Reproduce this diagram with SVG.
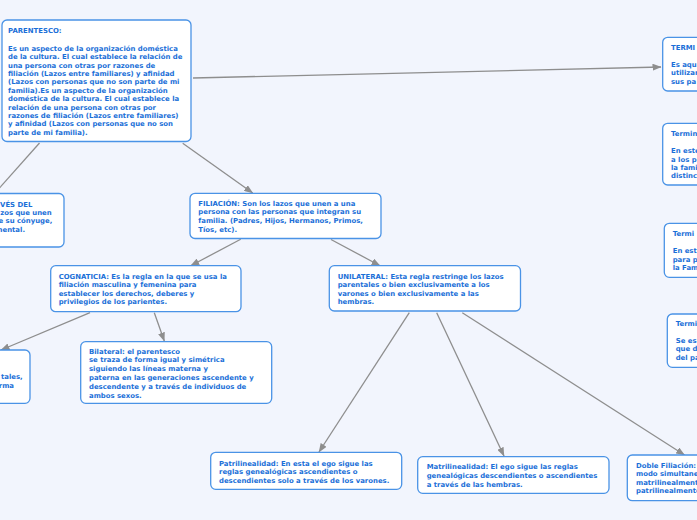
<svg xmlns="http://www.w3.org/2000/svg" width="697" height="520" viewBox="0 0 697 520">
<defs>
<style>
.bg{fill:#f2f5fd}
.box{fill:#ffffff;stroke:#4a93e6;stroke-width:1.3}
.t{font-family:"DejaVu Sans",Verdana,sans-serif;font-weight:bold;font-size:6.9px;fill:#1a6fd8}
.c{fill:none;stroke:#8e8e8e;stroke-width:1.3}
</style>
<marker id="ah" markerUnits="userSpaceOnUse" markerWidth="9" markerHeight="7" refX="8.5" refY="3.5" orient="auto">
<path d="M0,0 L9,3.5 L0,7 z" fill="#8e8e8e"/>
</marker>
</defs>
<rect class="bg" x="0" y="0" width="697" height="520"/>

<g id="connectors">
<line class="c" x1="193" y1="78" x2="661" y2="67" marker-end="url(#ah)"/>
<line class="c" x1="39.5" y1="143" x2="-5" y2="193"/>
<line class="c" x1="182.7" y1="143.3" x2="252.7" y2="193" marker-end="url(#ah)"/>
<line class="c" x1="240.7" y1="239.3" x2="190.7" y2="265.7" marker-end="url(#ah)"/>
<line class="c" x1="331" y1="239.5" x2="380" y2="265.7" marker-end="url(#ah)"/>
<line class="c" x1="90" y1="312.7" x2="1" y2="350" marker-end="url(#ah)"/>
<line class="c" x1="154.3" y1="312.7" x2="164.3" y2="341" marker-end="url(#ah)"/>
<line class="c" x1="409.3" y1="312.7" x2="319" y2="452" marker-end="url(#ah)"/>
<line class="c" x1="436.7" y1="312.7" x2="504" y2="456" marker-end="url(#ah)"/>
<line class="c" x1="462.3" y1="312.7" x2="684.5" y2="455" marker-end="url(#ah)"/>
</g>

<g id="parentesco">
<rect class="box" x="2" y="20" width="189" height="121.5" rx="5"/>
<text class="t" x="8" y="33.2">PARENTESCO:<tspan x="8" y="50.8">Es un aspecto de la organización doméstica</tspan><tspan x="8" dy="8.4">de la cultura. El cual establece la relación de</tspan><tspan x="8" dy="8.4">una persona con otras por razones de</tspan><tspan x="8" dy="8.4">filiación (Lazos entre familiares) y afinidad</tspan><tspan x="8" dy="8.4">(Lazos con personas que no son parte de mi</tspan><tspan x="8" dy="8.4">familia).Es un aspecto de la organización</tspan><tspan x="8" dy="8.4">doméstica de la cultura. El cual establece la</tspan><tspan x="8" dy="8.4">relación de una persona con otras por</tspan><tspan x="8" dy="8.4">razones de filiación (Lazos entre familiares)</tspan><tspan x="8" dy="8.4">y afinidad (Lazos con personas que no son</tspan><tspan x="8" dy="8.4">parte de mi familia).</tspan></text>
</g>

<g id="afinidad">
<rect class="box" x="-130" y="193.5" width="194" height="53.5" rx="5"/>
<text class="t" text-anchor="end" x="32.3" y="206.5">VÉS DEL<tspan x="51.7" y="214.8">zos que unen</tspan><tspan x="52.3" y="223.2">e su cónyuge,</tspan><tspan x="25" y="231.5">mental.</tspan></text>
</g>

<g id="filiacion">
<rect class="box" x="190" y="193.3" width="191" height="45.2" rx="5"/>
<text class="t" x="198.3" y="205.8">FILIACIÓN: Son los lazos que unen a una<tspan x="198.3" dy="8.65">persona con las personas que integran su</tspan><tspan x="198.3" dy="8.65">familia. (Padres, Hijos, Hermanos, Primos,</tspan><tspan x="198.3" dy="8.65">Tíos, etc).</tspan></text>
</g>

<g id="cognaticia">
<rect class="box" x="50.7" y="265.7" width="190.3" height="46" rx="5"/>
<text class="t" x="58.7" y="278.5">COGNATICIA: Es la regla en la que se usa la<tspan x="58.7" dy="8.65">filiación masculina y femenina para</tspan><tspan x="58.7" dy="8.65">establecer los derechos, deberes y</tspan><tspan x="58.7" dy="8.65">privilegios de los parientes.</tspan></text>
</g>

<g id="unilateral">
<rect class="box" x="329.3" y="265.7" width="191.2" height="45.3" rx="5"/>
<text class="t" x="337.7" y="278.5">UNILATERAL: Esta regla restringe los lazos<tspan x="337.7" dy="8.65">parentales o bien exclusivamente a los</tspan><tspan x="337.7" dy="8.65">varones o bien exclusivamente a las</tspan><tspan x="337.7" dy="8.65">hembras.</tspan></text>
</g>

<g id="unilineal">
<rect class="box" x="-160" y="350" width="190" height="53.3" rx="5"/>
<text class="t" text-anchor="end" x="22.7" y="379.2">tales,<tspan x="14" y="388.2">rma</tspan></text>
</g>

<g id="bilateral">
<rect class="box" x="80.7" y="341.7" width="191" height="61.6" rx="5"/>
<text class="t" x="89" y="353.5">Bilateral: el parentesco<tspan x="89" dy="8.8">se traza de forma igual y simétrica</tspan><tspan x="89" dy="8.8">siguiendo las líneas materna y</tspan><tspan x="89" dy="8.8">paterna en las generaciones ascendente y</tspan><tspan x="89" dy="8.8">descendente y a través de individuos de</tspan><tspan x="89" dy="8.8">ambos sexos.</tspan></text>
</g>

<g id="patrilinealidad">
<rect class="box" x="210.7" y="452.3" width="191" height="37" rx="5"/>
<text class="t" x="219" y="465.8">Patrilinealidad: En esta el ego sigue las<tspan x="219" dy="8.5">reglas genealógicas ascendientes o</tspan><tspan x="219" dy="8.5">descendientes solo a través de los varones.</tspan></text>
</g>

<g id="matrilinealidad">
<rect class="box" x="417.7" y="456.7" width="191.3" height="36.6" rx="5"/>
<text class="t" x="426.7" y="469.2">Matrilinealidad: El ego sigue las reglas<tspan x="426.7" dy="8.65">genealógicas descendientes o ascendientes</tspan><tspan x="426.7" dy="8.65">a través de las hembras.</tspan></text>
</g>

<g id="doble">
<rect class="box" x="627.3" y="455" width="191" height="45.7" rx="5"/>
<text class="t" x="636" y="467.8">Doble Filiación:<tspan x="636" dy="8.5">modo simultane</tspan><tspan x="636" dy="8.5">matrilinealment</tspan><tspan x="636" dy="8.5">patrilinealmente</tspan></text>
</g>

<g id="terminologia">
<rect class="box" x="662.7" y="37.3" width="191" height="53.7" rx="5"/>
<text class="t" x="671" y="50.2">TERMI<tspan x="671" y="66.5">Es aqu</tspan><tspan x="671" dy="8.65">utilizar</tspan><tspan x="671" dy="8.65">sus pa</tspan></text>
</g>

<g id="termino2">
<rect class="box" x="662.7" y="123.3" width="191" height="61.7" rx="5"/>
<text class="t" x="671" y="135.8">Termin<tspan x="671" y="153.2">En este</tspan><tspan x="671" dy="8.35">a los p</tspan><tspan x="671" dy="8.35">la famil</tspan><tspan x="671" dy="8.35">distinc</tspan></text>
</g>

<g id="termino3">
<rect class="box" x="664.3" y="223.3" width="191" height="54" rx="5"/>
<text class="t" x="672.7" y="235.8">Termi<tspan x="672.7" y="253.2">En est</tspan><tspan x="672.7" dy="8.3">para p</tspan><tspan x="672.7" dy="8.3">la Fam</tspan></text>
</g>

<g id="termino4">
<rect class="box" x="667.3" y="314" width="191" height="53.3" rx="5"/>
<text class="t" x="675.7" y="325.8">Termi<tspan x="675.7" y="342.5">Se es</tspan><tspan x="675.7" dy="8.65">que d</tspan><tspan x="675.7" dy="8.65">del pa</tspan></text>
</g>
</svg>
